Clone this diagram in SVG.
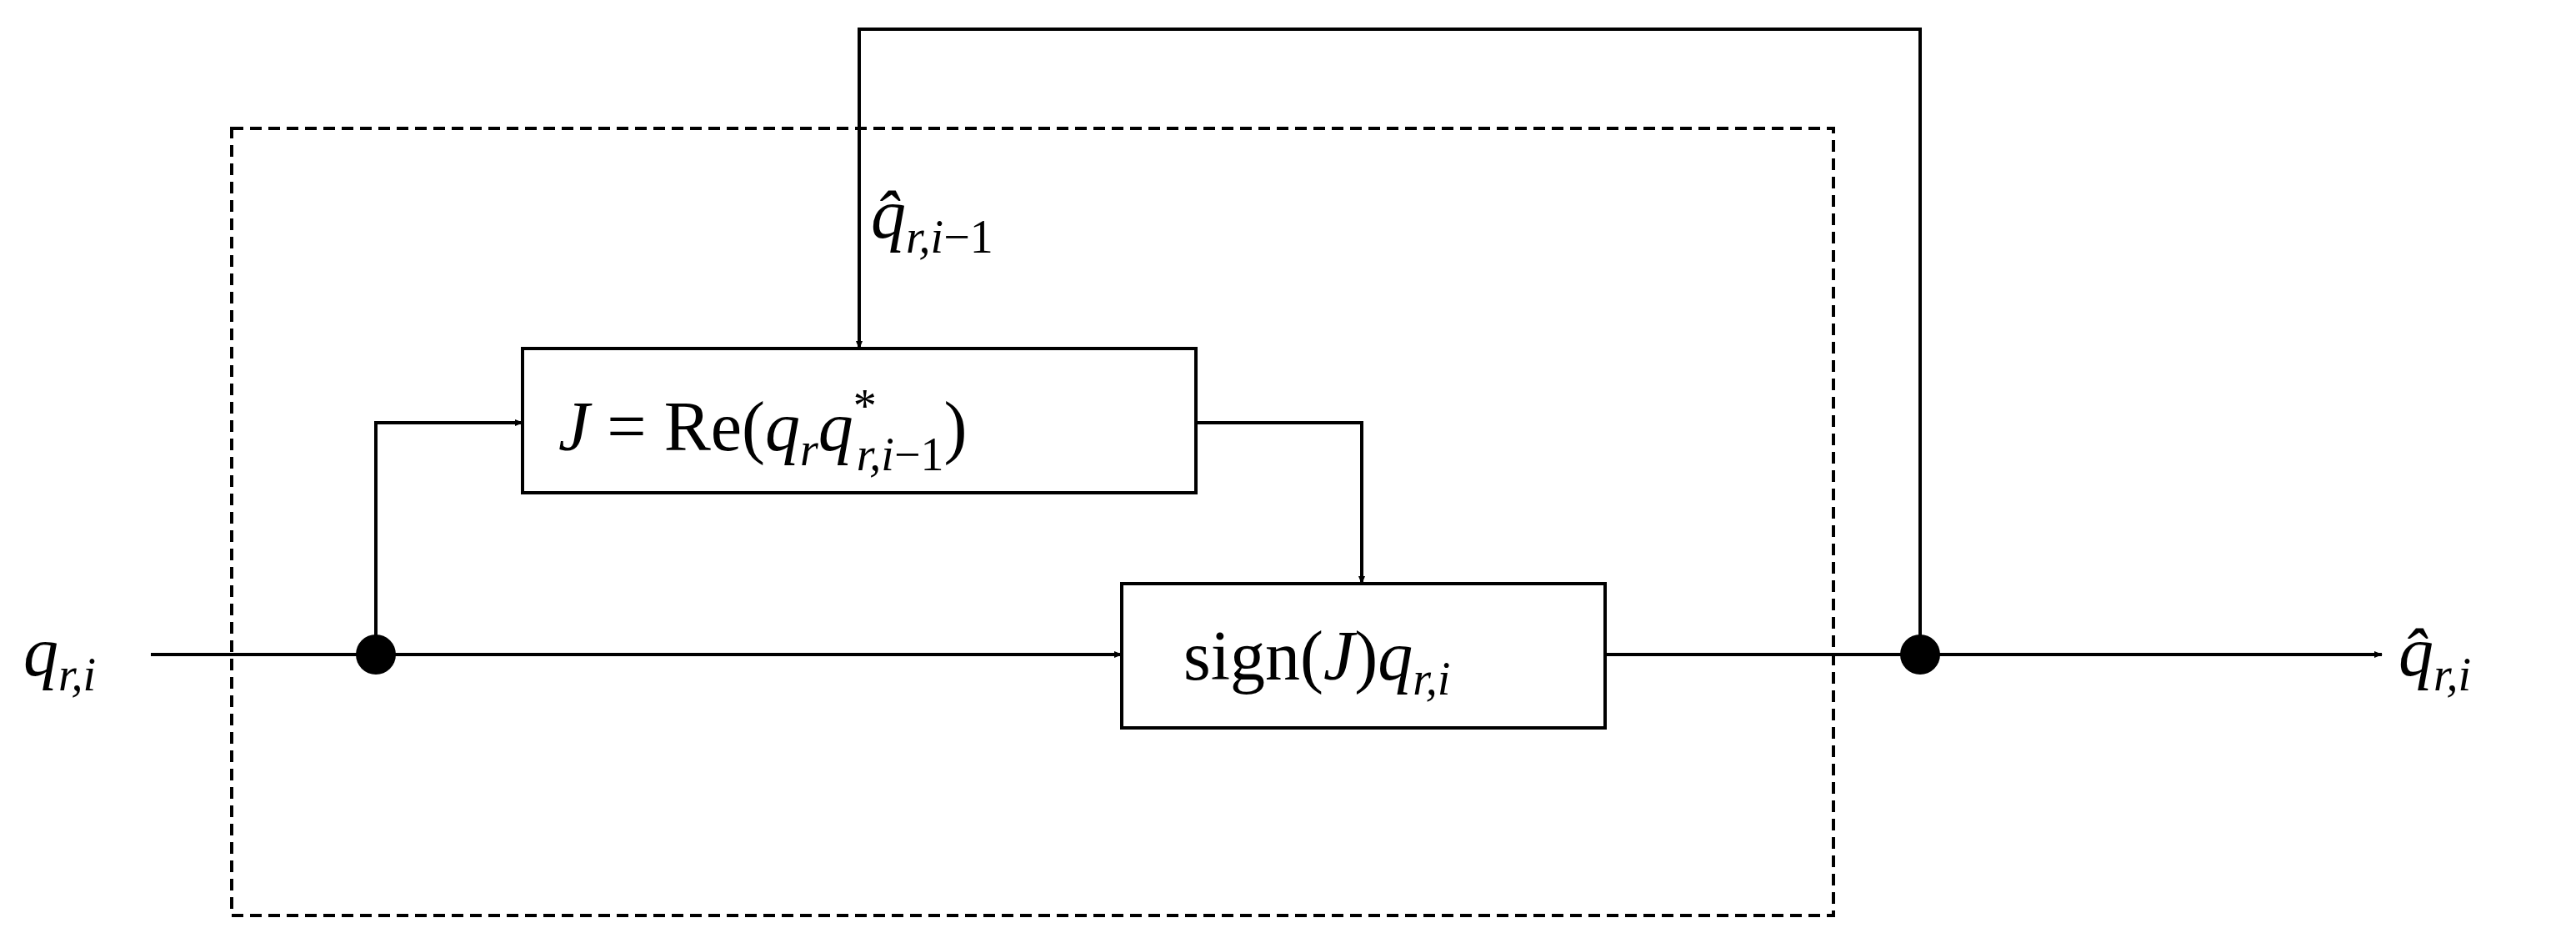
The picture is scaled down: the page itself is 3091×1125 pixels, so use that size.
<svg xmlns="http://www.w3.org/2000/svg" width="3091" height="1125" viewBox="0 0 3091 1125">
<style>
.ln{stroke:#000;stroke-width:4;fill:none}
.bx{stroke:#000;stroke-width:4;fill:#fff}
.t{font-family:"Liberation Serif","DejaVu Serif",serif;font-size:84px;fill:#000}
.i{font-style:italic}
.s{font-size:56px}
</style>
<defs>
<marker id="a" markerWidth="10" markerHeight="8" refX="9" refY="4" orient="auto" markerUnits="userSpaceOnUse" viewBox="0 0 10 8">
<path d="M0,0 L10,4 L0,8 z" fill="#000"/>
</marker>
</defs>
<rect x="278" y="154" width="1922" height="944" fill="none" stroke="#000" stroke-width="4" stroke-dasharray="14,8"/>
<g id="connectors">
<path class="ln" d="M181,785 H1346" marker-end="url(#a)" style="marker-end:url(#a)"/>
<path class="ln" d="M451,785 V507 H627" marker-end="url(#a)"/>
<path class="ln" d="M1435,507 H1634 V700" marker-end="url(#a)"/>
<path class="ln" d="M1926,785 H2858" marker-end="url(#a)"/>
<path class="ln" d="M2304,785 V35 H1031 V418" marker-end="url(#a)"/>
<circle cx="451" cy="785" r="24" fill="#000"/>
<circle cx="2304" cy="785" r="24" fill="#000"/>
</g>
<defs><marker id="b" markerWidth="28" markerHeight="22" refX="27" refY="11" orient="auto" markerUnits="userSpaceOnUse"><path d="M0,0 L28,11 L0,22 z" fill="#000"/></marker></defs>
<g id="box1">
<rect class="bx" x="627" y="418" width="808" height="173"/>
<text class="t" x="670" y="540"><tspan class="i">J</tspan> = Re(<tspan class="i">q</tspan><tspan class="i s" dy="18">r</tspan><tspan class="i" dy="-18">q</tspan><tspan class="s" dy="-34">*</tspan><tspan class="i s" dx="-24" dy="58">r,i</tspan><tspan class="s" dy="0">−1</tspan><tspan dy="-24">)</tspan></text>
</g>
<g id="box2">
<rect class="bx" x="1346" y="700" width="580" height="173"/>
<text class="t" x="1420" y="815">sign(<tspan class="i">J</tspan>)<tspan class="i">q</tspan><tspan class="i s" dy="18">r,i</tspan></text>
</g>
<g id="labels">
<text class="t i" x="28" y="810">q<tspan class="s" dy="18">r,i</tspan></text>
<text class="t i" x="1045" y="285">q̂<tspan class="s" dy="18">r,i</tspan><tspan class="s" font-style="normal">−1</tspan></text>
<text class="t i" x="2878" y="810">q̂<tspan class="s" dy="18">r,i</tspan></text>
</g>
</svg>
